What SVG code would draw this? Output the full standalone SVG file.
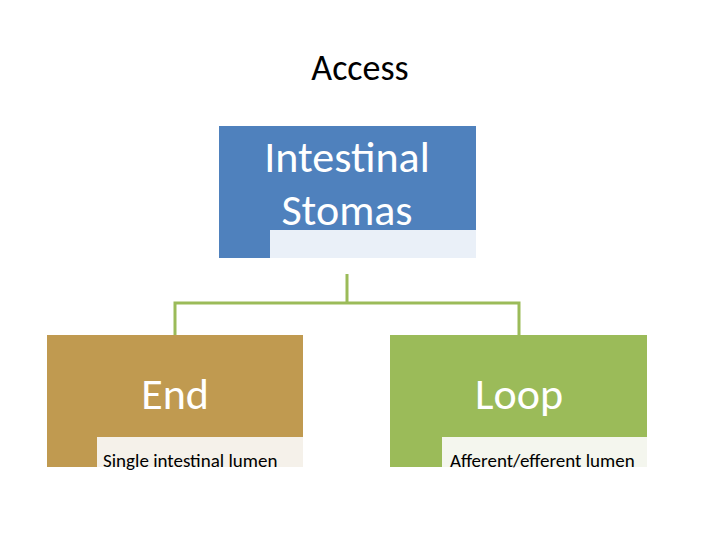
<svg xmlns="http://www.w3.org/2000/svg" width="720" height="540" viewBox="0 0 720 540">
<style>
text{font-family:Carlito,"Liberation Sans",sans-serif}
.big{font-size:44px;fill:#fff;text-anchor:middle}
.sm{font-size:19px;fill:#000}
.ln{stroke:#9BBB59;stroke-width:3;fill:none}
</style>
<rect width="720" height="540" fill="#fff"/>
<text x="360" y="80" font-size="36" text-anchor="middle" fill="#000">Access</text>
<g id="connectors">
<path class="ln" d="M347 274V303M175 335V303H519V335"/>
</g>
<g id="stomas">
<rect x="219" y="126" width="257" height="132" fill="#4F81BD"/>
<rect x="270" y="230" width="206" height="28" fill="#EAF0F8"/>
<text class="big" x="347" y="172">Intestinal</text>
<text class="big" x="347" y="225">Stomas</text>
</g>
<g id="end">
<rect x="47" y="335" width="256" height="132" fill="#C09A50"/>
<rect x="97" y="437" width="206" height="30" fill="#F5F1EA"/>
<text class="big" x="175" y="409">End</text>
<text class="sm" x="103" y="467">Single intestinal lumen</text>
</g>
<g id="loop">
<rect x="390" y="335" width="257" height="132" fill="#9BBB59"/>
<rect x="442" y="437" width="205" height="30" fill="#F4F6EE"/>
<text class="big" x="519" y="409">Loop</text>
<text class="sm" x="450" y="467">Afferent/efferent lumen</text>
</g>
</svg>
